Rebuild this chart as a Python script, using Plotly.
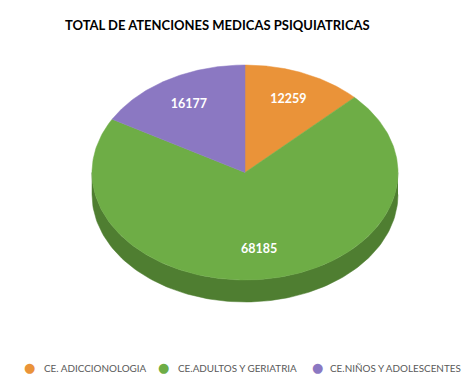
import numpy as np
import plotly.graph_objects as go

# ---------------- data ----------------
title_text = "TOTAL DE ATENCIONES MEDICAS PSIQUIATRICAS"
labels = ["CE. ADICCIONOLOGIA", "CE.ADULTOS Y GERIATRIA", "CE.NIÑOS Y ADOLESCENTES"]
values = [12259, 68185, 16177]

# ---------------- style ----------------
top_colors = ["#EA9339", "#6EAD46", "#8B78C2"]
side_colors = ["#B86F27", "#4F7E31", "#6A5A98"]
OFF = 8  # page body margin
W, H = 474 - OFF, 380 - OFF
CX, CY, RX, RY, DEPTH = 245.0, 172.5, 153.0, 107.5, 22.0
LABEL_R = 0.73
FONT = "Lato"


def pt(theta_deg, r=1.0, dy=0.0):
    t = np.radians(theta_deg)
    return CX + r * RX * np.sin(t), CY - r * RY * np.cos(t) + dy


vals = np.array(values, dtype=float)
fracs = vals / vals.sum()
ends = np.cumsum(fracs) * 360.0
starts = ends - fracs * 360.0

fig = go.Figure()

# side walls (visible front half: theta 90..270)
for i in range(len(values)):
    s, e = max(starts[i], 90.0), min(ends[i], 270.0)
    if e <= s:
        continue
    th = np.linspace(s, e, 120)
    xt, yt = pt(th)
    xb, yb = pt(th[::-1], dy=DEPTH)
    fig.add_trace(go.Scatter(
        x=np.concatenate([xt, xb]), y=np.concatenate([yt, yb]),
        fill="toself", fillcolor=side_colors[i], mode="lines",
        line=dict(width=0.5, color=side_colors[i]),
        hoverinfo="skip", showlegend=False))

# top faces
for i in range(len(values)):
    th = np.linspace(starts[i], ends[i], 240)
    xa, ya = pt(th)
    fig.add_trace(go.Scatter(
        x=np.concatenate([[CX], xa, [CX]]), y=np.concatenate([[CY], ya, [CY]]),
        fill="toself", fillcolor=top_colors[i], mode="lines",
        line=dict(width=0.5, color=top_colors[i]),
        name=labels[i], hoverinfo="skip", showlegend=False))

# data labels
mids = (starts + ends) / 2.0
lx, ly = pt(mids, r=LABEL_R)
fig.add_trace(go.Scatter(
    x=lx, y=ly, mode="text", text=[str(v) for v in values],
    textfont=dict(family=FONT, size=12.5, color="white", weight="bold"),
    hoverinfo="skip", showlegend=False))

# title
fig.add_annotation(x=63, y=25, xref="x", yref="y", xanchor="left", yanchor="middle",
                   text="<b>" + title_text + "</b>", showarrow=False,
                   font=dict(family=FONT, size=13, color="#000000"))

# legend (drawn as annotations for exact spacing)
marker_x = [29, 163, 317]
text_x = [42, 176, 328]
for i, lab in enumerate(labels):
    fig.add_annotation(x=marker_x[i], y=367.5, xref="x", yref="y", xanchor="center", yanchor="middle",
                       text="●", showarrow=False,
                       font=dict(family="DejaVu Sans", size=13, color=top_colors[i]))
    fig.add_annotation(x=text_x[i], y=368, xref="x", yref="y", xanchor="left", yanchor="middle",
                       text=lab, showarrow=False,
                       font=dict(family=FONT, size=9.9, color="#595959"))

fig.update_layout(
    width=W, height=H, margin=dict(l=0, r=0, t=0, b=0),
    paper_bgcolor="white", plot_bgcolor="white",
    xaxis=dict(range=[OFF, OFF + W], visible=False, fixedrange=True),
    yaxis=dict(range=[OFF + H, OFF], visible=False, fixedrange=True),
    showlegend=False,
)

fig.write_html("out.html")
